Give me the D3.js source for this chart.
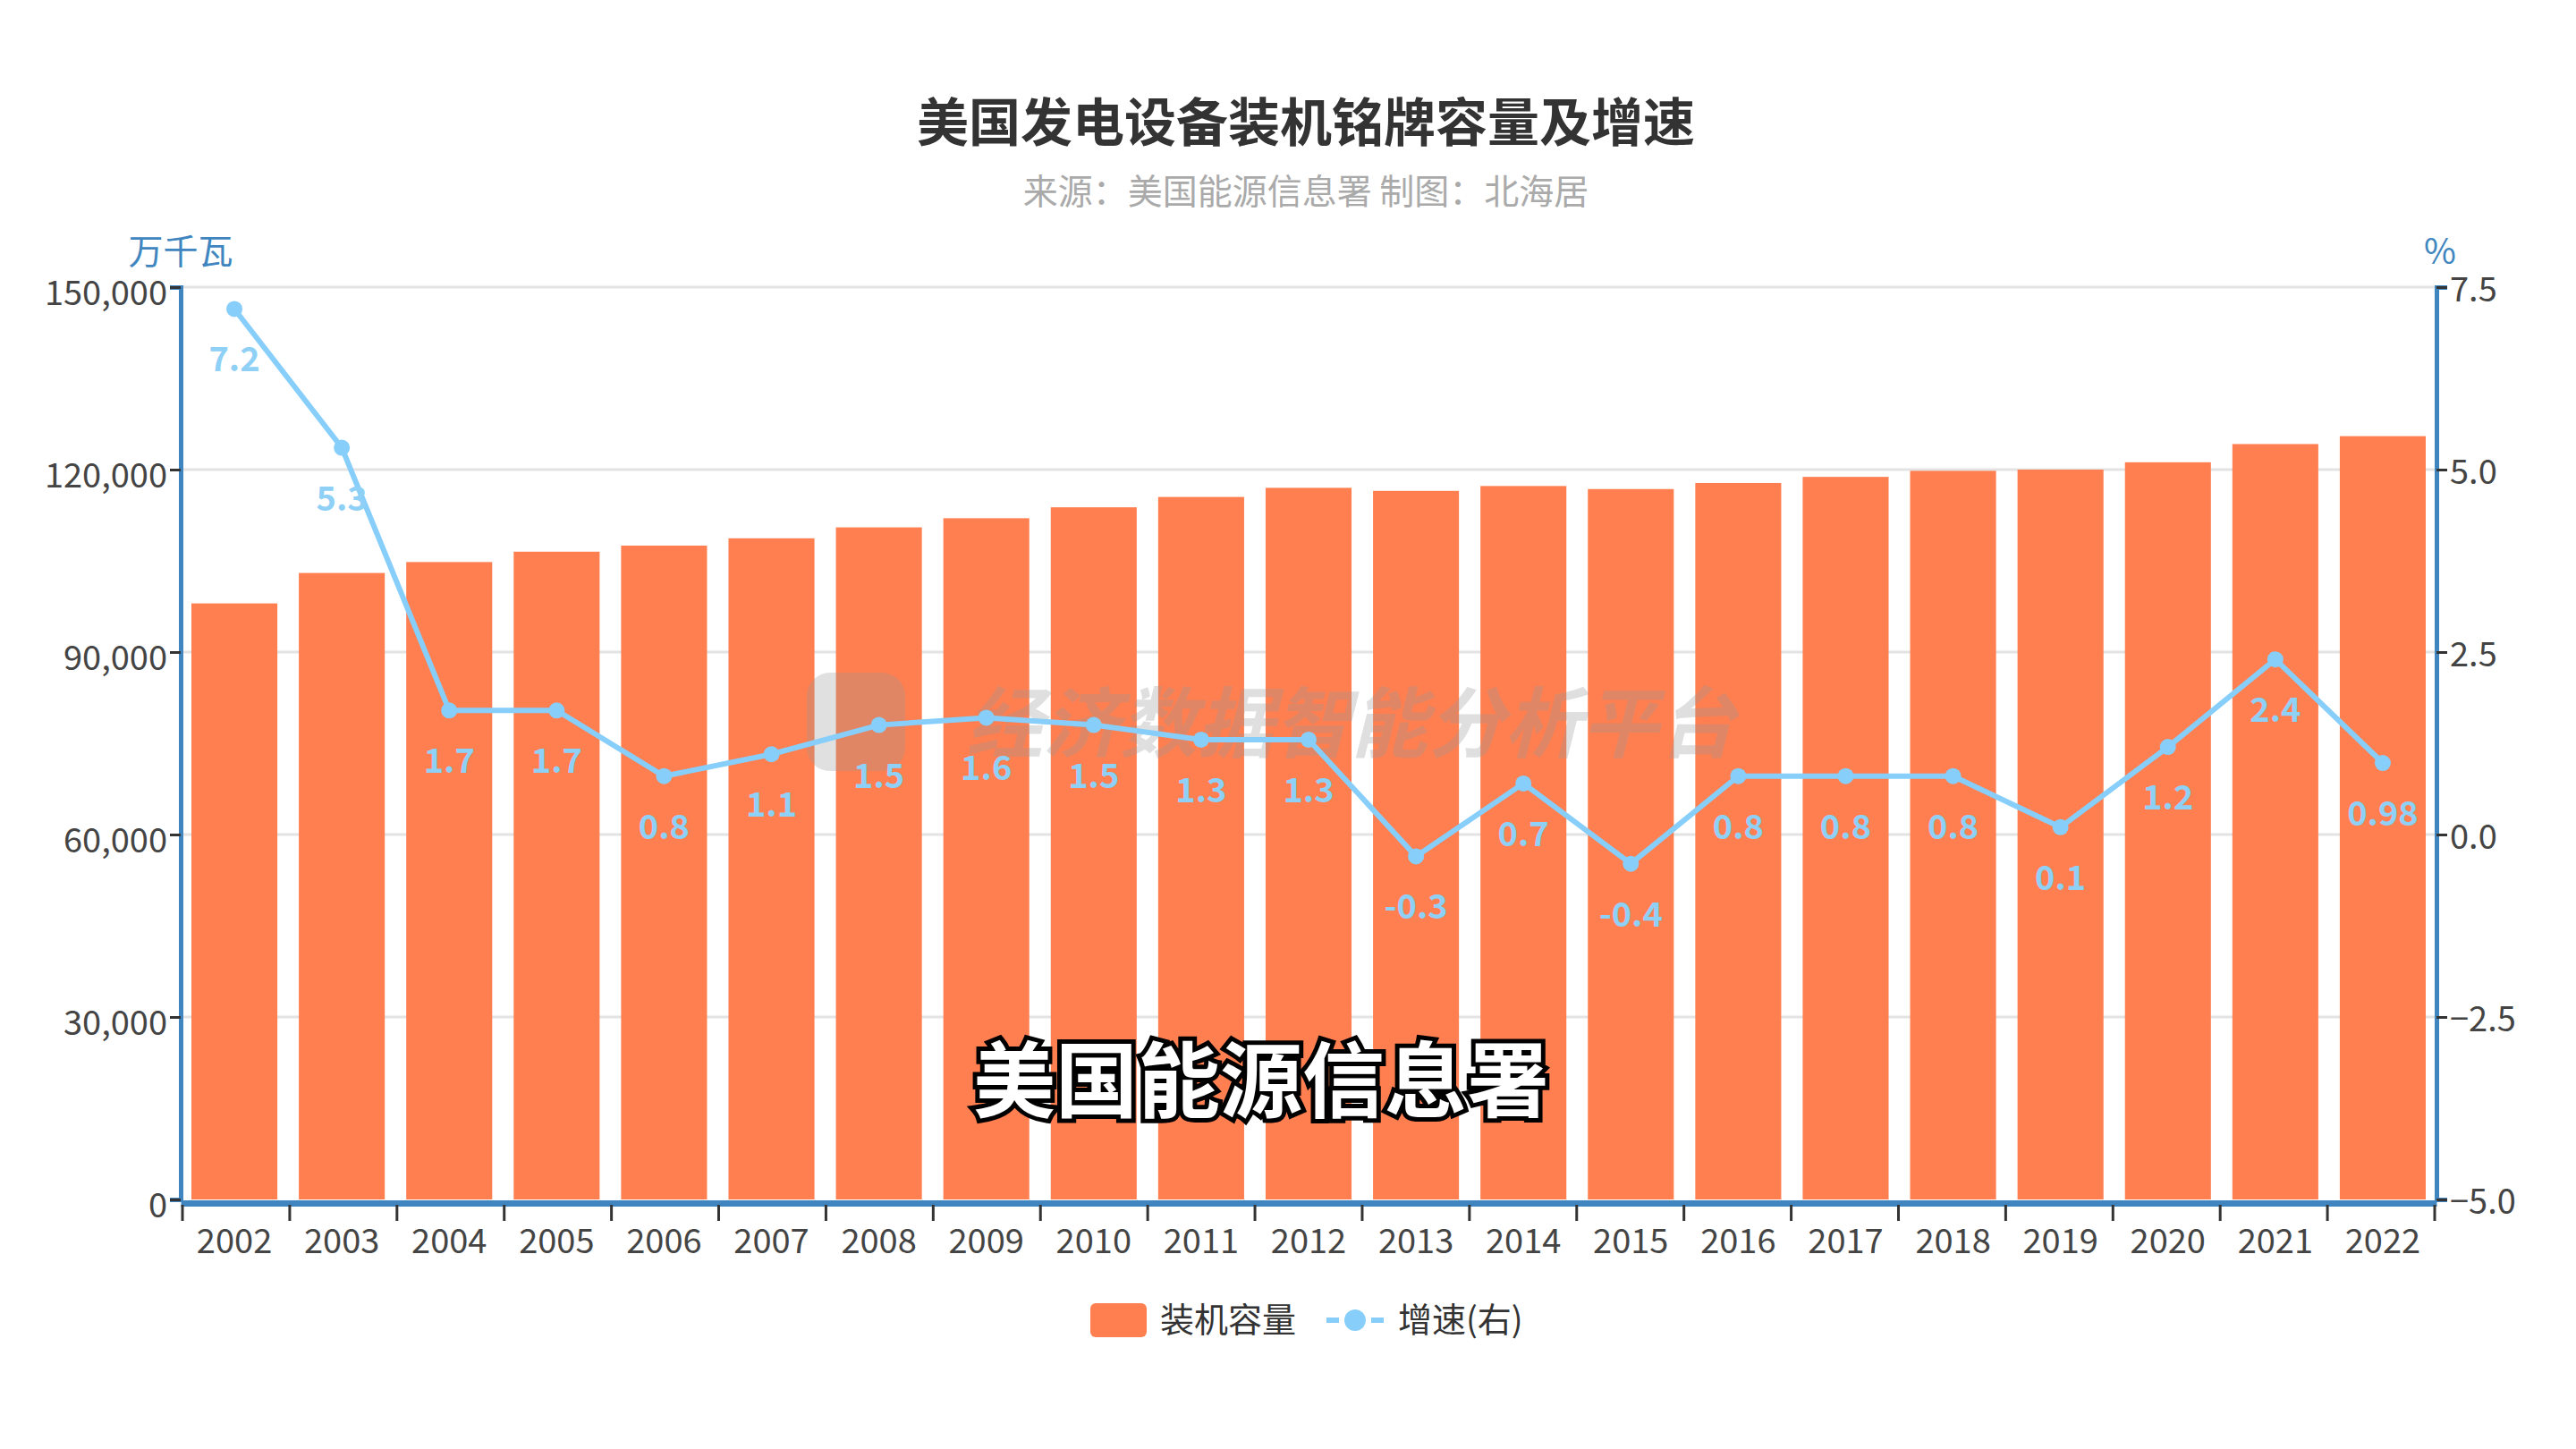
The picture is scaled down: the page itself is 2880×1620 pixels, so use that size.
<!DOCTYPE html>
<html>
<head>
<meta charset="utf-8">
<script src="https://cdn.jsdelivr.net/npm/d3@7"></script>
<style>
body { margin: 0; background: #fff; }
text { font-family: "Noto Sans CJK SC", "Liberation Sans", sans-serif; }
</style>
</head>
<body>
<svg id="chart" width="2880" height="1620"></svg>
<script>
"use strict";

var years = ["2002", "2003", "2004", "2005", "2006", "2007", "2008", "2009", "2010", "2011",
    "2012", "2013", "2014", "2015", "2016", "2017", "2018", "2019", "2020", "2021", "2022"];
var capacity = [98000, 103000, 104800, 106500, 107500, 108700, 110500, 112000, 113800, 115500,
    117000, 116500, 117300, 116800, 117800, 118800, 119800, 120000, 121200, 124200, 125500];
var growth = [7.2, 5.3, 1.7, 1.7, 0.8, 1.1, 1.5, 1.6, 1.5, 1.3,
    1.3, -0.3, 0.7, -0.4, 0.8, 0.8, 0.8, 0.1, 1.2, 2.4, 0.98];
var leftTicks = [0, 30000, 60000, 90000, 120000, 150000];
var rightTicks = [-5, -2.5, 0, 2.5, 5, 7.5];

(function () {
    var svg = d3.select("#chart"),
        left = 202,
        right = 2724,
        plotTop = 321,
        bottom = 1341,
        axisBlue = "#3f86c0",
        barColor = "#ff7f50",
        lineColor = "#87cefa";

    var x = d3.scaleBand().domain(years).range([left, right]).paddingInner(0.2).paddingOuter(0.1);
    var y = d3.scaleLinear().domain([0, 150000]).range([bottom, plotTop]);
    var y2 = d3.scaleLinear().domain([-5, 7.5]).range([bottom, plotTop]);

    // grid
    svg.append("g").selectAll("line")
        .data(leftTicks.slice(1))
        .enter().append("line")
            .attr("x1", left).attr("x2", right)
            .attr("y1", function (d) { return y(d); })
            .attr("y2", function (d) { return y(d); })
            .attr("stroke", "#e3e3e3").attr("stroke-width", 3);

    // bars
    svg.append("g").selectAll("rect")
        .data(capacity)
        .enter().append("rect")
            .attr("x", function (d, i) { return x(years[i]); })
            .attr("width", x.bandwidth())
            .attr("y", function (d) { return y(d); })
            .attr("height", function (d) { return bottom - y(d); })
            .attr("fill", barColor);

    // watermark
    svg.append("rect")
        .attr("x", 902).attr("y", 752).attr("width", 110).attr("height", 110).attr("rx", 26)
        .attr("fill", "#999").attr("opacity", 0.3);
    svg.append("text")
        .attr("x", 1510).attr("y", 840)
        .attr("text-anchor", "middle")
        .attr("font-size", 86).attr("font-weight", "bold").attr("font-style", "italic")
        .attr("fill", "#999").attr("opacity", 0.3)
        .text("经济数据智能分析平台");

    // axes
    var gl = svg.append("g").attr("transform", "translate(" + left + ",0)")
        .call(d3.axisLeft(y).tickValues(leftTicks).tickFormat(d3.format(",")).tickSize(12));
    var gr = svg.append("g").attr("transform", "translate(" + right + ",0)")
        .call(d3.axisRight(y2).tickValues(rightTicks).tickFormat(d3.format(".1f")).tickSize(12));
    var gb = svg.append("g").attr("transform", "translate(0," + (bottom + 4) + ")")
        .call(d3.axisBottom(x).tickSize(0));
    [gl, gr].forEach(function (g) {
        g.select(".domain").attr("stroke", axisBlue).attr("stroke-width", 5);
        g.selectAll(".tick line").attr("stroke", "#333").attr("stroke-width", 3);
        g.selectAll(".tick text").attr("font-size", 38).attr("fill", "#444")
            .attr("font-family", "Liberation Sans, sans-serif");
    });
    gl.selectAll(".tick text").attr("dy", "0.5em");
    gr.selectAll(".tick text").attr("dy", "0.4em");
    gb.select(".domain").attr("stroke", axisBlue).attr("stroke-width", 7);
    gb.selectAll(".tick text").attr("font-size", 38).attr("fill", "#444").attr("dy", "1.4em")
        .attr("font-family", "Liberation Sans, sans-serif");
    svg.append("g").selectAll("line")
        .data(d3.range(years.length + 1))
        .enter().append("line")
            .attr("x1", function (i) { return left + 2 + i * (right - left - 4) / years.length; })
            .attr("x2", function (i) { return left + 2 + i * (right - left - 4) / years.length; })
            .attr("y1", bottom + 6).attr("y2", bottom + 24)
            .attr("stroke", "#333").attr("stroke-width", 3);

    // growth line
    var cx = function (i) { return x(years[i]) + x.bandwidth() / 2; };
    svg.append("path")
        .datum(growth)
        .attr("d", d3.line().x(function (d, i) { return cx(i); }).y(function (d) { return y2(d); }))
        .attr("fill", "none").attr("stroke", lineColor).attr("stroke-width", 6);
    svg.append("g").selectAll("circle")
        .data(growth)
        .enter().append("circle")
            .attr("cx", function (d, i) { return cx(i); })
            .attr("cy", function (d) { return y2(d); })
            .attr("r", 9).attr("fill", lineColor);
    svg.append("g").selectAll("text")
        .data(growth)
        .enter().append("text")
            .attr("x", function (d, i) { return cx(i); })
            .attr("y", function (d) { return y2(d) + 70; })
            .attr("text-anchor", "middle")
            .attr("font-size", 38).attr("font-weight", "bold")
            .attr("font-family", "Liberation Sans, sans-serif")
            .attr("fill", "#8fd0f7")
            .text(function (d) { return d; });

    // titles
    svg.append("text").attr("x", 1460).attr("y", 158).attr("text-anchor", "middle")
        .attr("font-size", 58).attr("font-weight", "bold").attr("fill", "#333")
        .text("美国发电设备装机铭牌容量及增速");
    svg.append("text").attr("x", 1460).attr("y", 228).attr("text-anchor", "middle")
        .attr("font-size", 39).attr("fill", "#aaa")
        .text("来源：美国能源信息署  制图：北海居");
    svg.append("text").attr("x", 202).attr("y", 295).attr("text-anchor", "middle")
        .attr("font-size", 39).attr("fill", axisBlue).text("万千瓦");
    svg.append("text").attr("x", 2728).attr("y", 295).attr("text-anchor", "middle")
        .attr("font-size", 39).attr("fill", axisBlue).text("%");

    // legend
    svg.append("rect").attr("x", 1219).attr("y", 1457).attr("width", 63).attr("height", 38)
        .attr("rx", 6).attr("fill", barColor);
    svg.append("text").attr("x", 1297).attr("y", 1489).attr("font-size", 38).attr("fill", "#333")
        .text("装机容量");
    svg.append("line").attr("x1", 1483).attr("x2", 1547).attr("y1", 1476).attr("y2", 1476)
        .attr("stroke", lineColor).attr("stroke-width", 6).attr("stroke-dasharray", "14,36");
    svg.append("circle").attr("cx", 1515).attr("cy", 1476).attr("r", 12).attr("fill", lineColor);
    svg.append("text").attr("x", 1563).attr("y", 1489).attr("font-size", 38).attr("fill", "#333")
        .text("增速(右)");

    // caption overlay
    svg.append("text").attr("x", 1410).attr("y", 1242).attr("text-anchor", "middle")
        .attr("font-size", 92).attr("font-weight", "bold")
        .attr("fill", "#fff").attr("stroke", "#000").attr("stroke-width", 10)
        .attr("paint-order", "stroke")
        .text("美国能源信息署");
}());
</script>
</body>
</html>
